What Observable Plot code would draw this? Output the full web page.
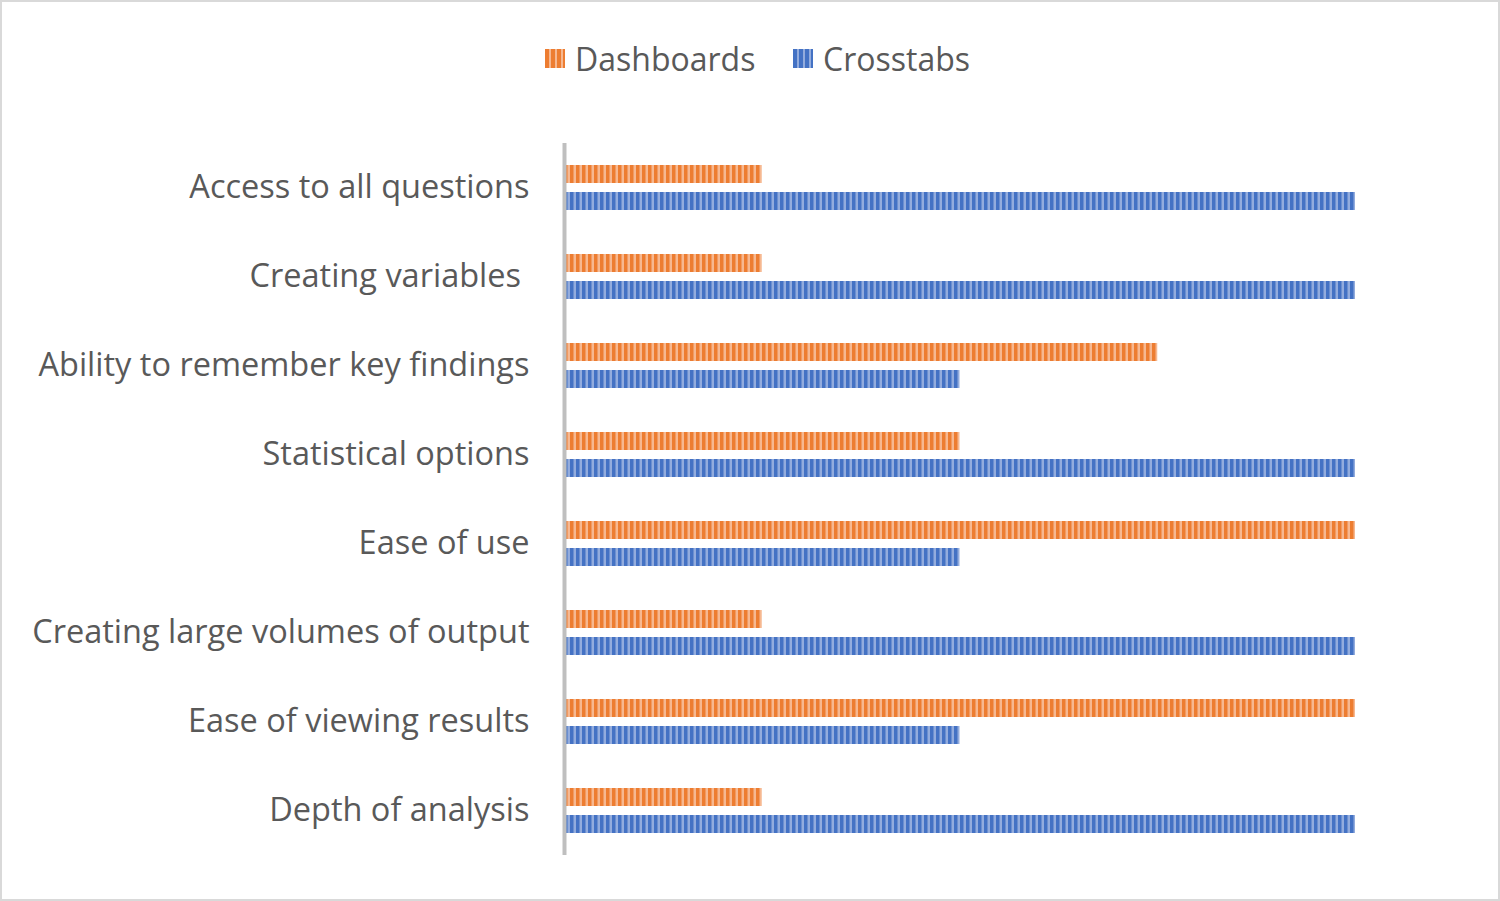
<!DOCTYPE html>
<html>
<head>
<meta charset="utf-8">
<script src="https://cdn.jsdelivr.net/npm/d3@7"></script>
<script src="https://cdn.jsdelivr.net/npm/@observablehq/plot@0.6"></script>
<style>
  html, body { margin: 0; padding: 0; background: #fff; }
  #wrap { position: relative; width: 1500px; height: 901px; overflow: hidden; font-family: "Open Sans", sans-serif; }
  #border { position: absolute; left: 0; top: 0; width: 1500px; height: 901px; box-sizing: border-box; border: 2px solid #d9d9d9; pointer-events: none; }
  #legend { position: absolute; left: 0; top: 0; width: 1500px; height: 130px; }
  .item { position: absolute; top: 37px; display: flex; align-items: center; color: #595959; font-size: 32px; }
  .sw { width: 20px; height: 19px; margin-right: 10px; }
  #chart { position: absolute; left: 0; top: 130px; }
</style>
</head>
<body>
<div id="wrap">
  <div id="legend"></div>
  <div id="chart"></div>
  <div id="border"></div>
</div>
<script>
const categories = [
  "Access to all questions",
  "Creating variables ",
  "Ability to remember key findings",
  "Statistical options",
  "Ease of use",
  "Creating large volumes of output",
  "Ease of viewing results",
  "Depth of analysis"
];
const seriesNames = ["Dashboards", "Crosstabs"];
const dashboards = [1, 1, 3, 2, 4, 1, 4, 1];
const crosstabs  = [4, 4, 2, 4, 2, 4, 2, 4];

const colors = {
  Dashboards: { dark: "#ED7D31", light: "#F6B891" },
  Crosstabs:  { dark: "#4472C4", light: "#93ACDD" }
};
const patId = {Dashboards: "patD", Crosstabs: "patC"};

const table = [];
categories.forEach((c, i) => {
  table.push({category: c, series: "Dashboards", value: dashboards[i]});
  table.push({category: c, series: "Crosstabs", value: crosstabs[i]});
});

// Legend
const legend = document.getElementById("legend");
const legendX = {Dashboards: 545, Crosstabs: 793};
seriesNames.forEach(s => {
  const it = document.createElement("div");
  it.className = "item";
  it.style.left = legendX[s] + "px";
  const sw = document.createElement("div");
  sw.className = "sw";
  sw.style.background = `repeating-linear-gradient(90deg, ${colors[s].dark} 0px, ${colors[s].dark} 3.5px, ${colors[s].light} 3.5px, ${colors[s].light} 6px)`;
  it.appendChild(sw);
  const t = document.createElement("span");
  t.textContent = s;
  it.appendChild(t);
  legend.appendChild(it);
});

const chart = Plot.plot({
  width: 1500,
  height: 771,
  marginLeft: 564,
  marginRight: 145,
  marginTop: 13,
  marginBottom: 46,
  style: { background: "transparent", fontFamily: "Open Sans, sans-serif" },
  x: { domain: [0, 4], axis: null },
  y: { domain: seriesNames, axis: null, paddingInner: 0.33, paddingOuter: 0.78 },
  fy: { domain: categories, padding: 0, label: null, tickSize: 0, tickPadding: 35 },
  marks: [
    Plot.barX(table, {
      fy: "category",
      y: "series",
      x: "value",
      fill: d => `url(#${patId[d.series]})`
    }),
    Plot.ruleX([0], { stroke: "#BFBFBF", strokeWidth: 4 })
  ]
});

const svg = d3.select(chart);
const defs = svg.insert("defs", ":first-child");
seriesNames.forEach(s => {
  const p = defs.append("pattern")
    .attr("id", patId[s])
    .attr("patternUnits", "userSpaceOnUse")
    .attr("width", 6).attr("height", 6);
  p.append("rect").attr("width", 6).attr("height", 6).attr("fill", colors[s].light);
  p.append("rect").attr("width", 3.5).attr("height", 6).attr("fill", colors[s].dark);
});
svg.selectAll("text").attr("fill", "#595959").style("font-size", "32.5px");

document.getElementById("chart").appendChild(chart);
</script>
</body>
</html>
